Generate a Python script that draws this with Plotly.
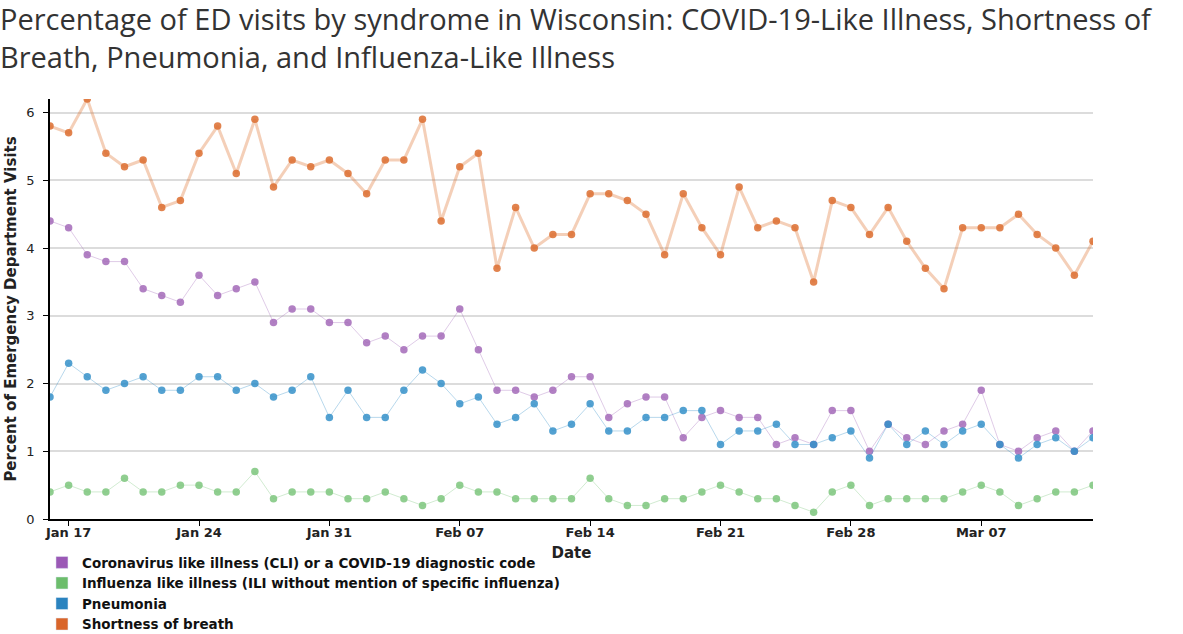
import pandas as pd
import plotly.graph_objects as go

dates = pd.date_range("2021-01-16", "2021-03-13", freq="D")

cli = [4.4, 4.3, 3.9, 3.8, 3.8, 3.4, 3.3, 3.2, 3.6, 3.3, 3.4, 3.5, 2.9, 3.1, 3.1, 2.9,
       2.9, 2.6, 2.7, 2.5, 2.7, 2.7, 3.1, 2.5, 1.9, 1.9, 1.8, 1.9, 2.1, 2.1, 1.5, 1.7,
       1.8, 1.8, 1.2, 1.5, 1.6, 1.5, 1.5, 1.1, 1.2, 1.1, 1.6, 1.6,
       1.0, 1.4, 1.2, 1.1, 1.3, 1.4, 1.9, 1.1, 1.0, 1.2, 1.3, 1.0, 1.3]
ili = [0.4, 0.5, 0.4, 0.4, 0.6, 0.4, 0.4, 0.5, 0.5, 0.4, 0.4, 0.7, 0.3, 0.4, 0.4, 0.4,
       0.3, 0.3, 0.4, 0.3, 0.2, 0.3, 0.5, 0.4, 0.4, 0.3, 0.3, 0.3, 0.3, 0.6, 0.3, 0.2,
       0.2, 0.3, 0.3, 0.4, 0.5, 0.4, 0.3, 0.3, 0.2, 0.1, 0.4, 0.5,
       0.2, 0.3, 0.3, 0.3, 0.3, 0.4, 0.5, 0.4, 0.2, 0.3, 0.4, 0.4, 0.5]
pneumonia = [1.8, 2.3, 2.1, 1.9, 2.0, 2.1, 1.9, 1.9, 2.1, 2.1, 1.9, 2.0, 1.8, 1.9, 2.1, 1.5,
             1.9, 1.5, 1.5, 1.9, 2.2, 2.0, 1.7, 1.8, 1.4, 1.5, 1.7, 1.3, 1.4, 1.7, 1.3, 1.3,
             1.5, 1.5, 1.6, 1.6, 1.1, 1.3, 1.3, 1.4, 1.1, 1.1, 1.2, 1.3,
             0.9, 1.4, 1.1, 1.3, 1.1, 1.3, 1.4, 1.1, 0.9, 1.1, 1.2, 1.0, 1.2]
sob = [5.8, 5.7, 6.2, 5.4, 5.2, 5.3, 4.6, 4.7, 5.4, 5.8, 5.1, 5.9, 4.9, 5.3, 5.2, 5.3,
       5.1, 4.8, 5.3, 5.3, 5.9, 4.4, 5.2, 5.4, 3.7, 4.6, 4.0, 4.2, 4.2, 4.8, 4.8, 4.7,
       4.5, 3.9, 4.8, 4.3, 3.9, 4.9, 4.3, 4.4, 4.3, 3.5, 4.7, 4.6,
       4.2, 4.6, 4.1, 3.7, 3.4, 4.3, 4.3, 4.3, 4.5, 4.2, 4.0, 3.6, 4.1]

names = ["Coronavirus like illness (CLI) or a COVID-19 diagnostic code",
         "Influenza like illness (ILI without mention of specific influenza)",
         "Pneumonia",
         "Shortness of breath"]
series = [cli, ili, pneumonia, sob]
marker_colors = ["#a36ab9", "#7cc67c", "#3590c9", "#dc6d2f"]
line_colors = ["rgba(163,106,185,0.35)", "rgba(124,198,124,0.35)",
               "rgba(53,144,201,0.35)", "rgba(224,117,53,0.35)"]
line_widths = [1, 1, 1, 3]
legend_colors = ["#9b59b6", "#6cbd6c", "#2a83bf", "#d9652a"]

fig = go.Figure()

draw_order = [3, 0, 1, 2]
for i in draw_order:
    fig.add_trace(go.Scatter(
        x=dates, y=series[i], mode="lines+markers", name=names[i],
        line=dict(color=line_colors[i], width=line_widths[i]),
        marker=dict(color=marker_colors[i], size=7.5, opacity=0.85),
        showlegend=False,
    ))

for i in range(4):
    fig.add_trace(go.Bar(
        x=[None], y=[None], name=names[i],
        marker=dict(color=legend_colors[i]), showlegend=True,
    ))

fig.update_layout(
    width=1183, height=634,
    margin=dict(l=50, r=90, t=99, b=115, autoexpand=False),
    paper_bgcolor="white", plot_bgcolor="white",
    title=dict(
        text="Percentage of ED visits by syndrome in Wisconsin: COVID-19-Like Illness, Shortness of<br>Breath, Pneumonia, and Influenza-Like Illness",
        x=0, xref="container", xanchor="left",
        y=0.952, yref="container", yanchor="top",
        pad=dict(l=0, t=0, r=0, b=0),
        font=dict(family="Open Sans", size=29, color="#333333"),
    ),
    xaxis=dict(
        type="date",
        range=[dates[0], dates[-1]],
        tick0="2021-01-17", dtick=7 * 86400000,
        tickformat="%b %d",
        showgrid=False, zeroline=False,
        showline=True, linecolor="black", linewidth=1.5,
        ticks="outside", ticklen=5, tickcolor="black",
        ticklabelstandoff=-4,
        automargin=False,
        tickfont=dict(family="DejaVu Sans", size=13, color="#222222", weight="bold"),
        title=dict(text="Date", standoff=8,
                   font=dict(family="DejaVu Sans", size=15, color="#222222", weight="bold")),
    ),
    yaxis=dict(
        range=[0, 6.2],
        dtick=1,
        showgrid=True, gridcolor="#dcdcdc", gridwidth=1.5,
        zeroline=False,
        showline=True, linecolor="black", linewidth=1.5,
        ticks="outside", ticklen=5, tickcolor="black",
        ticklabelstandoff=6,
        automargin=False,
        tickfont=dict(family="DejaVu Sans", size=13, color="#222222"),
        title=dict(text="Percent of Emergency Department Visits", standoff=6,
                   font=dict(family="DejaVu Sans", size=15, color="#222222", weight="bold")),
    ),
    legend=dict(
        x=-0.0077, xref="paper", xanchor="left",
        y=-0.067, yanchor="top",
        orientation="v",
        font=dict(family="DejaVu Sans", size=13.5, color="#111111", weight="bold"),
        bgcolor="rgba(0,0,0,0)",
        traceorder="normal",
        itemwidth=30,
    ),
    barmode="overlay",
)

fig.write_html("out.html", config={"displayModeBar": False},
               post_script="document.body.style.margin='0px';")
